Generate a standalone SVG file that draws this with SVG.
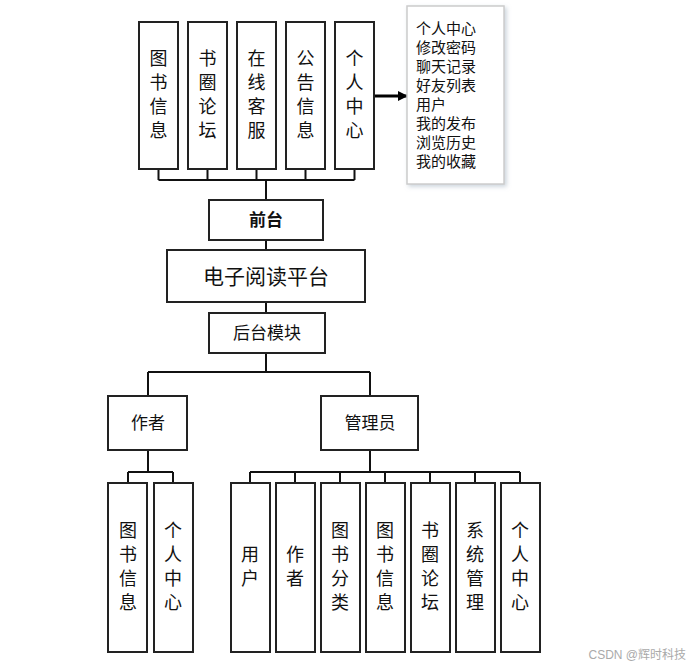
<svg xmlns="http://www.w3.org/2000/svg" width="694" height="667" viewBox="0 0 694 667">
<defs>
<style>
.b{fill:#fff;stroke:#222;stroke-width:2}
.t{font-family:"Liberation Sans","Noto Sans CJK SC",sans-serif;font-size:18px;fill:#111;text-anchor:middle}
.l{fill:none;stroke:#111;stroke-width:2}
</style>
<marker id="ar" markerWidth="10" markerHeight="10" refX="9" refY="5" orient="auto" markerUnits="userSpaceOnUse"><path d="M0,0 L10,5 L0,10Z" fill="#000"/></marker>
<filter id="sh" x="-10%" y="-10%" width="130%" height="130%"><feDropShadow dx="2" dy="2" stdDeviation="2" flood-color="#9ab" flood-opacity="0.5"/></filter>
</defs>
<rect width="694" height="667" fill="#fff"/>
<g id="connectors">
<path class="l" d="M158.5 169V180M207.5 169V180M256.5 169V180M305.5 169V180M354.5 169V180M158.5 180H354.5M266 180V200"/>
<path class="l" d="M266 240V250M266 302V313M266 353V372M148 372H370M148 372V396M370 372V396"/>
<path class="l" d="M148 450V472M128 472H173M128 472V483M173 472V483"/>
<path class="l" d="M370 450V472M250 472H520M250 472V483M295 472V483M340 472V483M385 472V483M430 472V483M475 472V483M520 472V483"/>
<path d="M373 96H407" stroke="#000" stroke-width="3" marker-end="url(#ar)"/>
</g>
<g id="top1"><rect class="b" x="139" y="22" width="39" height="147"/><text class="t"><tspan x="158.5" y="65">图</tspan><tspan x="158.5" dy="24">书</tspan><tspan x="158.5" dy="24">信</tspan><tspan x="158.5" dy="24">息</tspan></text></g>
<g id="top2"><rect class="b" x="188" y="22" width="39" height="147"/><text class="t"><tspan x="207.5" y="65">书</tspan><tspan x="207.5" dy="24">圈</tspan><tspan x="207.5" dy="24">论</tspan><tspan x="207.5" dy="24">坛</tspan></text></g>
<g id="top3"><rect class="b" x="237" y="22" width="39" height="147"/><text class="t"><tspan x="256.5" y="65">在</tspan><tspan x="256.5" dy="24">线</tspan><tspan x="256.5" dy="24">客</tspan><tspan x="256.5" dy="24">服</tspan></text></g>
<g id="top4"><rect class="b" x="286" y="22" width="39" height="147"/><text class="t"><tspan x="305.5" y="65">公</tspan><tspan x="305.5" dy="24">告</tspan><tspan x="305.5" dy="24">信</tspan><tspan x="305.5" dy="24">息</tspan></text></g>
<g id="top5"><rect class="b" x="335" y="22" width="39" height="147"/><text class="t"><tspan x="354.5" y="65">个</tspan><tspan x="354.5" dy="24">人</tspan><tspan x="354.5" dy="24">中</tspan><tspan x="354.5" dy="24">心</tspan></text></g>
<g id="note"><rect x="407" y="6" width="97" height="178" fill="#fff" stroke="#ccc" stroke-width="1.5" filter="url(#sh)"/>
<text style="font-family:'Liberation Sans','Noto Sans CJK SC',sans-serif;font-size:15px;fill:#111"><tspan x="416" y="34">个人中心</tspan><tspan x="416" dy="19">修改密码</tspan><tspan x="416" dy="19">聊天记录</tspan><tspan x="416" dy="19">好友列表</tspan><tspan x="416" dy="19">用户</tspan><tspan x="416" dy="19">我的发布</tspan><tspan x="416" dy="19">浏览历史</tspan><tspan x="416" dy="19">我的收藏</tspan></text></g>
<g id="front"><rect class="b" x="209" y="200" width="114" height="40"/><text class="t" x="266" y="226" style="font-weight:bold;font-size:17px">前台</text></g>
<g id="platform"><rect class="b" x="167" y="250" width="198" height="52"/><text class="t" x="266" y="284" style="font-size:21px">电子阅读平台</text></g>
<g id="back"><rect class="b" x="209" y="313" width="116" height="40"/><text class="t" x="267" y="339" style="font-size:17px">后台模块</text></g>
<g id="author"><rect class="b" x="108" y="396" width="79" height="54"/><text class="t" x="148" y="429" style="font-size:17px">作者</text></g>
<g id="admin"><rect class="b" x="321" y="396" width="97" height="54"/><text class="t" x="370" y="429" style="font-size:17px">管理员</text></g>
<g id="a1"><rect class="b" x="108" y="483" width="39" height="169"/><text class="t"><tspan x="128" y="537">图</tspan><tspan x="128" dy="24">书</tspan><tspan x="128" dy="24">信</tspan><tspan x="128" dy="24">息</tspan></text></g>
<g id="a2"><rect class="b" x="154" y="483" width="39" height="169"/><text class="t"><tspan x="173" y="537">个</tspan><tspan x="173" dy="24">人</tspan><tspan x="173" dy="24">中</tspan><tspan x="173" dy="24">心</tspan></text></g>
<g id="m1"><rect class="b" x="231" y="483" width="39" height="169"/><text class="t"><tspan x="250" y="561">用</tspan><tspan x="250" dy="24">户</tspan></text></g>
<g id="m2"><rect class="b" x="276" y="483" width="39" height="169"/><text class="t"><tspan x="295" y="561">作</tspan><tspan x="295" dy="24">者</tspan></text></g>
<g id="m3"><rect class="b" x="321" y="483" width="39" height="169"/><text class="t"><tspan x="340" y="537">图</tspan><tspan x="340" dy="24">书</tspan><tspan x="340" dy="24">分</tspan><tspan x="340" dy="24">类</tspan></text></g>
<g id="m4"><rect class="b" x="366" y="483" width="39" height="169"/><text class="t"><tspan x="385" y="537">图</tspan><tspan x="385" dy="24">书</tspan><tspan x="385" dy="24">信</tspan><tspan x="385" dy="24">息</tspan></text></g>
<g id="m5"><rect class="b" x="411" y="483" width="39" height="169"/><text class="t"><tspan x="430" y="537">书</tspan><tspan x="430" dy="24">圈</tspan><tspan x="430" dy="24">论</tspan><tspan x="430" dy="24">坛</tspan></text></g>
<g id="m6"><rect class="b" x="456" y="483" width="39" height="169"/><text class="t"><tspan x="475" y="537">系</tspan><tspan x="475" dy="24">统</tspan><tspan x="475" dy="24">管</tspan><tspan x="475" dy="24">理</tspan></text></g>
<g id="m7"><rect class="b" x="501" y="483" width="39" height="169"/><text class="t"><tspan x="520" y="537">个</tspan><tspan x="520" dy="24">人</tspan><tspan x="520" dy="24">中</tspan><tspan x="520" dy="24">心</tspan></text></g>
<text x="686" y="659" style="font-family:'Liberation Sans','Noto Sans CJK SC',sans-serif;font-size:12px;fill:#aaa;text-anchor:end">CSDN @辉时科技</text>
</svg>
